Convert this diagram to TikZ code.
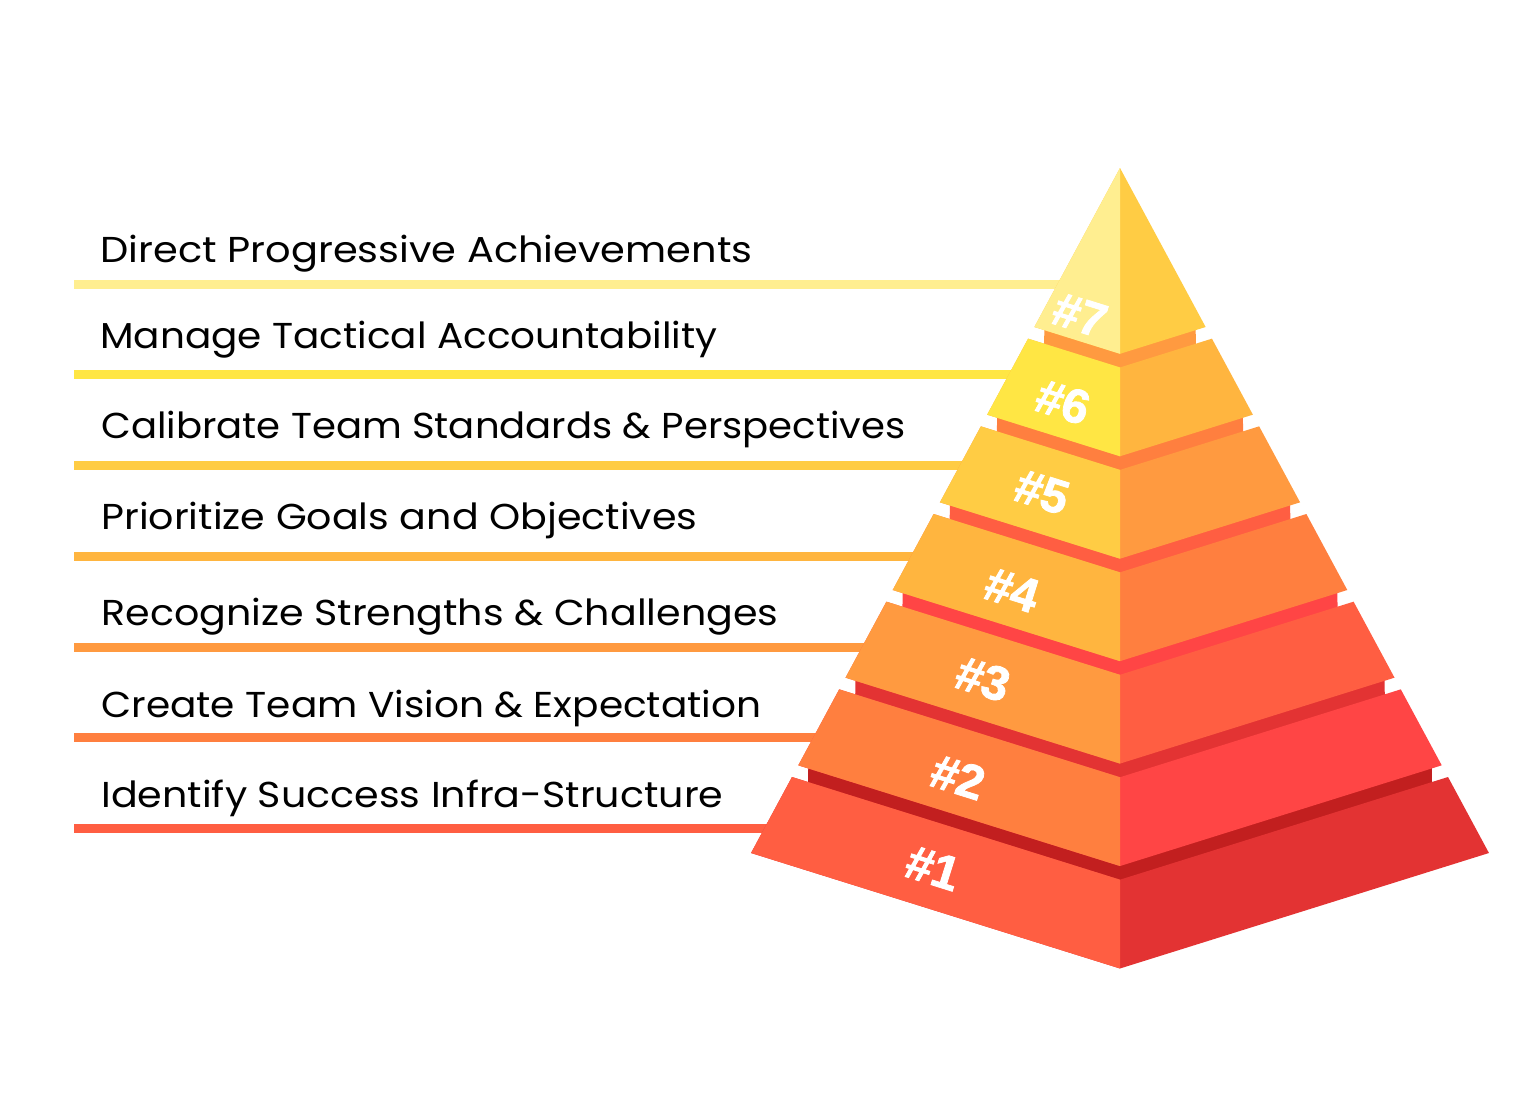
\documentclass[tikz,border=0pt]{standalone}
\usepackage{fontspec}
\usepackage{graphicx}
\setmainfont{Poppins}
\newfontfamily\numfont{Liberation Sans Bold}[FakeBold=1.6]

\definecolor{cA}{HTML}{FFEE90}
\definecolor{cB}{HTML}{FFE644}
\definecolor{cC}{HTML}{FFCC44}
\definecolor{cD}{HTML}{FFB53F}
\definecolor{cE}{HTML}{FF9A40}
\definecolor{cF}{HTML}{FF7F3F}
\definecolor{cG}{HTML}{FF5E42}
\definecolor{cH}{HTML}{FF4545}
\definecolor{cI}{HTML}{E33333}
\definecolor{cJ}{HTML}{C21F1F}

% tier: #1 top corner y, #2 bottom corner y, #3 left colour, #4 right colour
\newcommand\pyrtier[4]{%
  \fill[#4] ({1120-0.5386*(#1-168)},#1) -- (1120,{#1+0.1686*(#1-168)}) -- ({1120+0.5386*(#1-168)},#1)
    -- ({1120+0.5386*(#2-168)},#2) -- (1120,{#2+0.1686*(#2-168)}) -- ({1120-0.5386*(#2-168)},#2) -- cycle;
  \fill[#3] ({1120-0.5386*(#1-168)},#1) -- (1120,{#1+0.1686*(#1-168)})
    -- (1120,{#2+0.1686*(#2-168)}) -- ({1120-0.5386*(#2-168)},#2) -- cycle;
}
% band: #1 upper tier bottom y, #2 lower tier top y, #3 colour
\newcommand\pyrband[3]{%
  \fill[#3] ({1120-0.5386*(#1-168)+10},{#1+2}) -- (1120,{#1+0.1686*(#1-168)-1}) -- ({1120+0.5386*(#1-168)-10},{#1+2})
    -- ({1120+0.5386*(#2-168)-16},{#2+6}) -- (1120,{#2+0.1686*(#2-168)+1}) -- ({1120-0.5386*(#2-168)+16},{#2+6}) -- cycle;
}

\begin{document}
\begin{tikzpicture}[x=0.5pt,y=-0.5pt,
  lbl/.style={anchor=base west,inner sep=0pt,font=\fontsize{18}{20}\selectfont,text=black},
  num/.style={inner sep=0pt,text=white,rotate=-17.4,font=\numfont\fontsize{24}{24}\selectfont},
  leader/.style={line width=4.5pt}]
\fill[white] (0,0) rectangle (1536,1097);
\useasboundingbox (0,0) rectangle (1536,1097);

% leader lines (behind the pyramid)
\draw[leader,cA] (74,284.5) -- (1120,284.5);
\draw[leader,cB] (74,374.5) -- (1120,374.5);
\draw[leader,cC] (74,465.5) -- (1120,465.5);
\draw[leader,cD] (74,556.5) -- (1120,556.5);
\draw[leader,cE] (74,647.5) -- (1120,647.5);
\draw[leader,cF] (74,737.5) -- (1120,737.5);
\draw[leader,cG] (74,828.5) -- (1120,828.5);

% texts
\node[lbl] (t7) at (100,262) {\resizebox{326pt}{\height}{Direct Progressive Achievements}};
\node[lbl] (t6) at (100,348) {\resizebox{308.5pt}{\height}{Manage Tactical Accountability}};
\node[lbl] (t5) at (101,438) {\resizebox{402pt}{\height}{Calibrate Team Standards \& Perspectives}};
\node[lbl] (t4) at (101,529) {\resizebox{298pt}{\height}{Prioritize Goals and Objectives}};
\node[lbl] (t3) at (101,625) {\resizebox{338.5pt}{\height}{Recognize Strengths \& Challenges}};
\node[lbl] (t2) at (101,717) {\resizebox{330pt}{\height}{Create Team Vision \& Expectation}};
\node[lbl] (t1) at (101,807) {\resizebox{311pt}{\height}{Identify Success Infra-Structure}};

% bands between tiers
\pyrband{327}{338.67}{cE}
\pyrband{414.67}{426.33}{cF}
\pyrband{502.33}{514}{cG}
\pyrband{590}{601.67}{cH}
\pyrband{677.67}{689.33}{cI}
\pyrband{765.33}{777}{cJ}

% tiers
\pyrtier{168}{327}{cA}{cC}
\pyrtier{338.67}{414.67}{cB}{cD}
\pyrtier{426.33}{502.33}{cC}{cE}
\pyrtier{514}{590}{cD}{cF}
\pyrtier{601.67}{677.67}{cE}{cG}
\pyrtier{689.33}{765.33}{cF}{cH}
\pyrtier{777}{853}{cG}{cI}

% numbers
\node[num] (n7) at (1080,315) {\#7};
\node[num] (n6) at (1063,402) {\#6};
\node[num] (n5) at (1042,492) {\#5};
\node[num] (n4) at (1012,590) {\#4};
\node[num] (n3) at (983,679) {\#3};
\node[num] (n2) at (958,777) {\#2};
\node[num] (n1) at (933,868) {\#1};
\end{tikzpicture}
\end{document}
